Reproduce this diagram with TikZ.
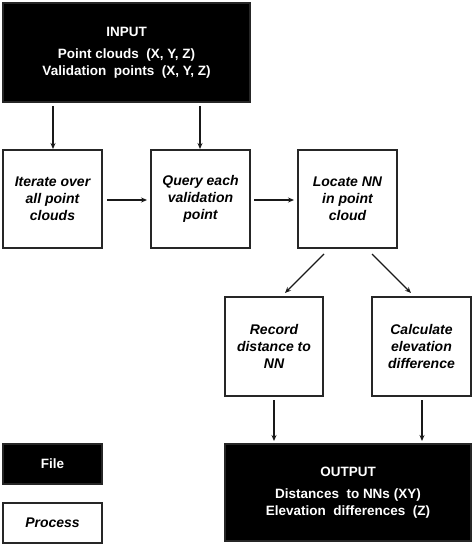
\documentclass[tikz,border=0pt]{standalone}
\usepackage{fontspec}
\setmainfont{Liberation Sans}
\usetikzlibrary{arrows.meta}
\begin{document}
\begin{tikzpicture}[x=1pt,y=-1pt,
  filebox/.style={draw=black!85,line width=1.3pt,fill=black,text=white,font=\bfseries\fontsize{13.5}{17}\selectfont,align=center,inner sep=0pt},
  procbox/.style={draw=black!85,line width=1.3pt,fill=white,font=\bfseries\itshape\fontsize{14}{17}\selectfont,align=center,inner sep=0pt},
  arr/.style={-{Stealth[length=6pt,width=5pt]},line width=1.2pt,black!90}]
\useasboundingbox (0,0) rectangle (474,545);
% boxes
\node[filebox,minimum width=247pt,minimum height=99pt] (in) at (126.5,52.5) {INPUT\\[5pt]Point clouds\ \ (X, Y, Z)\\Validation\ \ points\ \ (X, Y, Z)};
\node[procbox,minimum width=99pt,minimum height=98pt] (it) at (52.5,199) {Iterate over\\all point\\clouds};
\node[procbox,minimum width=99pt,minimum height=98pt] (q) at (200.5,199) {Query each\\validation\\point};
\node[procbox,minimum width=99pt,minimum height=98pt] (loc) at (347.5,199) {Locate NN\\in point\\cloud};
\node[procbox,minimum width=98pt,minimum height=99pt] (rec) at (274,346.5) {Record\\distance to\\NN};
\node[procbox,minimum width=99pt,minimum height=99pt] (cal) at (421.5,346.5) {Calculate\\elevation\\difference};
\node[filebox,minimum width=246pt,minimum height=97pt] (out) at (348,492.5) {OUTPUT\\[5pt]Distances\ \ to NNs (XY)\\Elevation\ \ differences\ \ (Z)};
\node[filebox,minimum width=99pt,minimum height=40pt] (lf) at (52.5,464) {File};
\node[procbox,minimum width=99pt,minimum height=40pt] (lp) at (52.5,523) {Process};
% connectors
\coordinate (a1s) at (53,106); \coordinate (a1e) at (53,149);
\coordinate (a2s) at (200,106); \coordinate (a2e) at (200,149);
\draw[arr] (a1s) -- (a1e);
\draw[arr] (a2s) -- (a2e);
\coordinate (h1s) at (107,200); \coordinate (h1e) at (147,200);
\coordinate (h2s) at (254,200); \coordinate (h2e) at (294,200);
\draw[arr] (h1s) -- (h1e);
\draw[arr] (h2s) -- (h2e);
\coordinate (d1s) at (324,254); \coordinate (d1e) at (285,293);
\coordinate (d2s) at (372,254); \coordinate (d2e) at (411,293);
\draw[arr] (d1s) -- (d1e);
\draw[arr] (d2s) -- (d2e);
\coordinate (v1s) at (274,400); \coordinate (v1e) at (274,441);
\coordinate (v2s) at (422,400); \coordinate (v2e) at (422,441);
\draw[arr] (v1s) -- (v1e);
\draw[arr] (v2s) -- (v2e);
\end{tikzpicture}
\end{document}
